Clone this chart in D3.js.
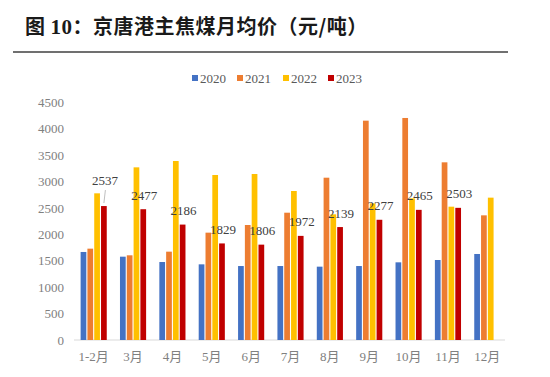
<!DOCTYPE html>
<html>
<head>
<meta charset="utf-8">
<script src="https://cdn.jsdelivr.net/npm/d3@7"></script>
<style>
  body { margin: 0; background: #fff; }
  svg { display: block; }
</style>
</head>
<body>
<svg id="chart" width="550" height="377"></svg>
<script>
const months = ["1-2月", "3月", "4月", "5月", "6月", "7月", "8月", "9月", "10月", "11月", "12月"];
const seriesNames = ["2020", "2021", "2022", "2023"];
const y2020 = [1667, 1578, 1477, 1433, 1401, 1401, 1389, 1401, 1471, 1515, 1629];
const y2021 = [1730, 1604, 1673, 2033, 2178, 2411, 3074, 4154, 4205, 3365, 2361];
const y2022 = [2778, 3270, 3390, 3125, 3144, 2822, 2380, 2588, 2683, 2525, 2696];
const y2023 = [2537, 2477, 2186, 1829, 1806, 1972, 2139, 2277, 2465, 2503, null];
const yTicks = [0, 500, 1000, 1500, 2000, 2500, 3000, 3500, 4000, 4500];

const svg = d3.select("#chart");
const serif = "'Liberation Serif', 'Noto Sans CJK SC', serif";

const color = d3.scaleOrdinal()
  .domain(seriesNames)
  .range(["#4472C4", "#ED7D31", "#FFC000", "#C00000"]);

// title + rule
const title = svg.append("text")
  .attr("x", 25)
  .attr("y", 34)
  .style("font-family", "'Noto Sans CJK SC', sans-serif")
  .style("font-size", "20px")
  .style("font-weight", "bold")
  .style("letter-spacing", "0.5px")
  .attr("fill", "#1a1a1a");
title.append("tspan").text("图 ");
title.append("tspan").style("font-family", serif).style("font-size", "21px").text("10");
title.append("tspan").text("：京唐港主焦煤月均价（元/吨）");

svg.append("line")
  .attr("x1", 13).attr("x2", 508)
  .attr("y1", 52).attr("y2", 52)
  .attr("stroke", "#404040")
  .attr("stroke-width", 1.5);

const x = d3.scaleBand()
  .domain(months)
  .range([74, 507])
  .paddingInner(0.336)
  .paddingOuter(0.168);

const xs = d3.scaleBand()
  .domain(seriesNames)
  .range([0, x.bandwidth()])
  .paddingInner(0.16);

const y = d3.scaleLinear()
  .domain([0, 4500])
  .range([340, 102.4]);

// y axis labels
const yAxis = svg.append("g")
  .attr("transform", "translate(64,0)")
  .call(d3.axisLeft(y).tickValues(yTicks).tickFormat(d3.format("d")).tickSize(0).tickPadding(0));
yAxis.select(".domain").remove();
yAxis.selectAll("text")
  .style("font-family", serif)
  .style("font-size", "13px")
  .attr("fill", "#808080");

// baseline
svg.append("line")
  .attr("x1", 74).attr("x2", 505)
  .attr("y1", y(0)).attr("y2", y(0))
  .attr("stroke", "#d9d9d9")
  .attr("stroke-width", 1);

// x axis labels
const xAxis = svg.append("g")
  .attr("transform", `translate(0,${y(0)})`)
  .call(d3.axisBottom(x).tickSize(0).tickPadding(12));
xAxis.select(".domain").remove();
xAxis.selectAll("text")
  .style("font-family", serif)
  .style("font-size", "13px")
  .attr("fill", "#808080");

const table = months.map((m, i) => ({
  month: m,
  values: [y2020[i], y2021[i], y2022[i], y2023[i]]
}));

const groups = svg.append("g")
  .selectAll("g")
  .data(table)
  .join("g")
  .attr("transform", d => `translate(${x(d.month)},0)`);

groups.selectAll("rect")
  .data(d => d.values.map((v, k) => ({ key: seriesNames[k], value: v })).filter(e => e.value != null))
  .join("rect")
  .attr("x", d => xs(d.key))
  .attr("width", xs.bandwidth())
  .attr("y", d => y(d.value))
  .attr("height", d => y(0) - y(d.value))
  .attr("fill", d => color(d.key));

// 2023 data labels
const labels = months.map((m, i) => ({ month: m, value: y2023[i], i })).filter(d => d.value != null);
const cx = d => x(d.month) + xs("2023") + xs.bandwidth() / 2;
const lift = d => d.i === 0 ? 26 : 14;

svg.append("g")
  .selectAll("text")
  .data(labels)
  .join("text")
  .attr("x", d => cx(d) + 1)
  .attr("y", d => y(d.value) - lift(d))
  .attr("dy", "0.35em")
  .attr("text-anchor", "middle")
  .style("font-family", serif)
  .style("font-size", "13px")
  .attr("fill", "#404040")
  .text(d => d.value);

// leader line for the first label
svg.append("g")
  .selectAll("line")
  .data(labels.filter(d => d.i === 0))
  .join("line")
  .attr("x1", d => cx(d) + 1.5).attr("x2", d => cx(d))
  .attr("y1", d => y(d.value) - 16).attr("y2", d => y(d.value) - 3)
  .attr("stroke", "#bfbfbf")
  .attr("stroke-width", 1);

// legend
const legendX = [192, 237, 283, 328];
const legend = svg.append("g")
  .selectAll("g")
  .data(seriesNames)
  .join("g")
  .attr("transform", (d, i) => `translate(${legendX[i]},75)`);
legend.append("rect")
  .attr("width", 6).attr("height", 6)
  .attr("fill", d => color(d));
legend.append("text")
  .attr("x", 8)
  .attr("y", 3)
  .attr("dy", "0.35em")
  .style("font-family", serif)
  .style("font-size", "13px")
  .attr("fill", "#595959")
  .text(d => d);
</script>
</body>
</html>
